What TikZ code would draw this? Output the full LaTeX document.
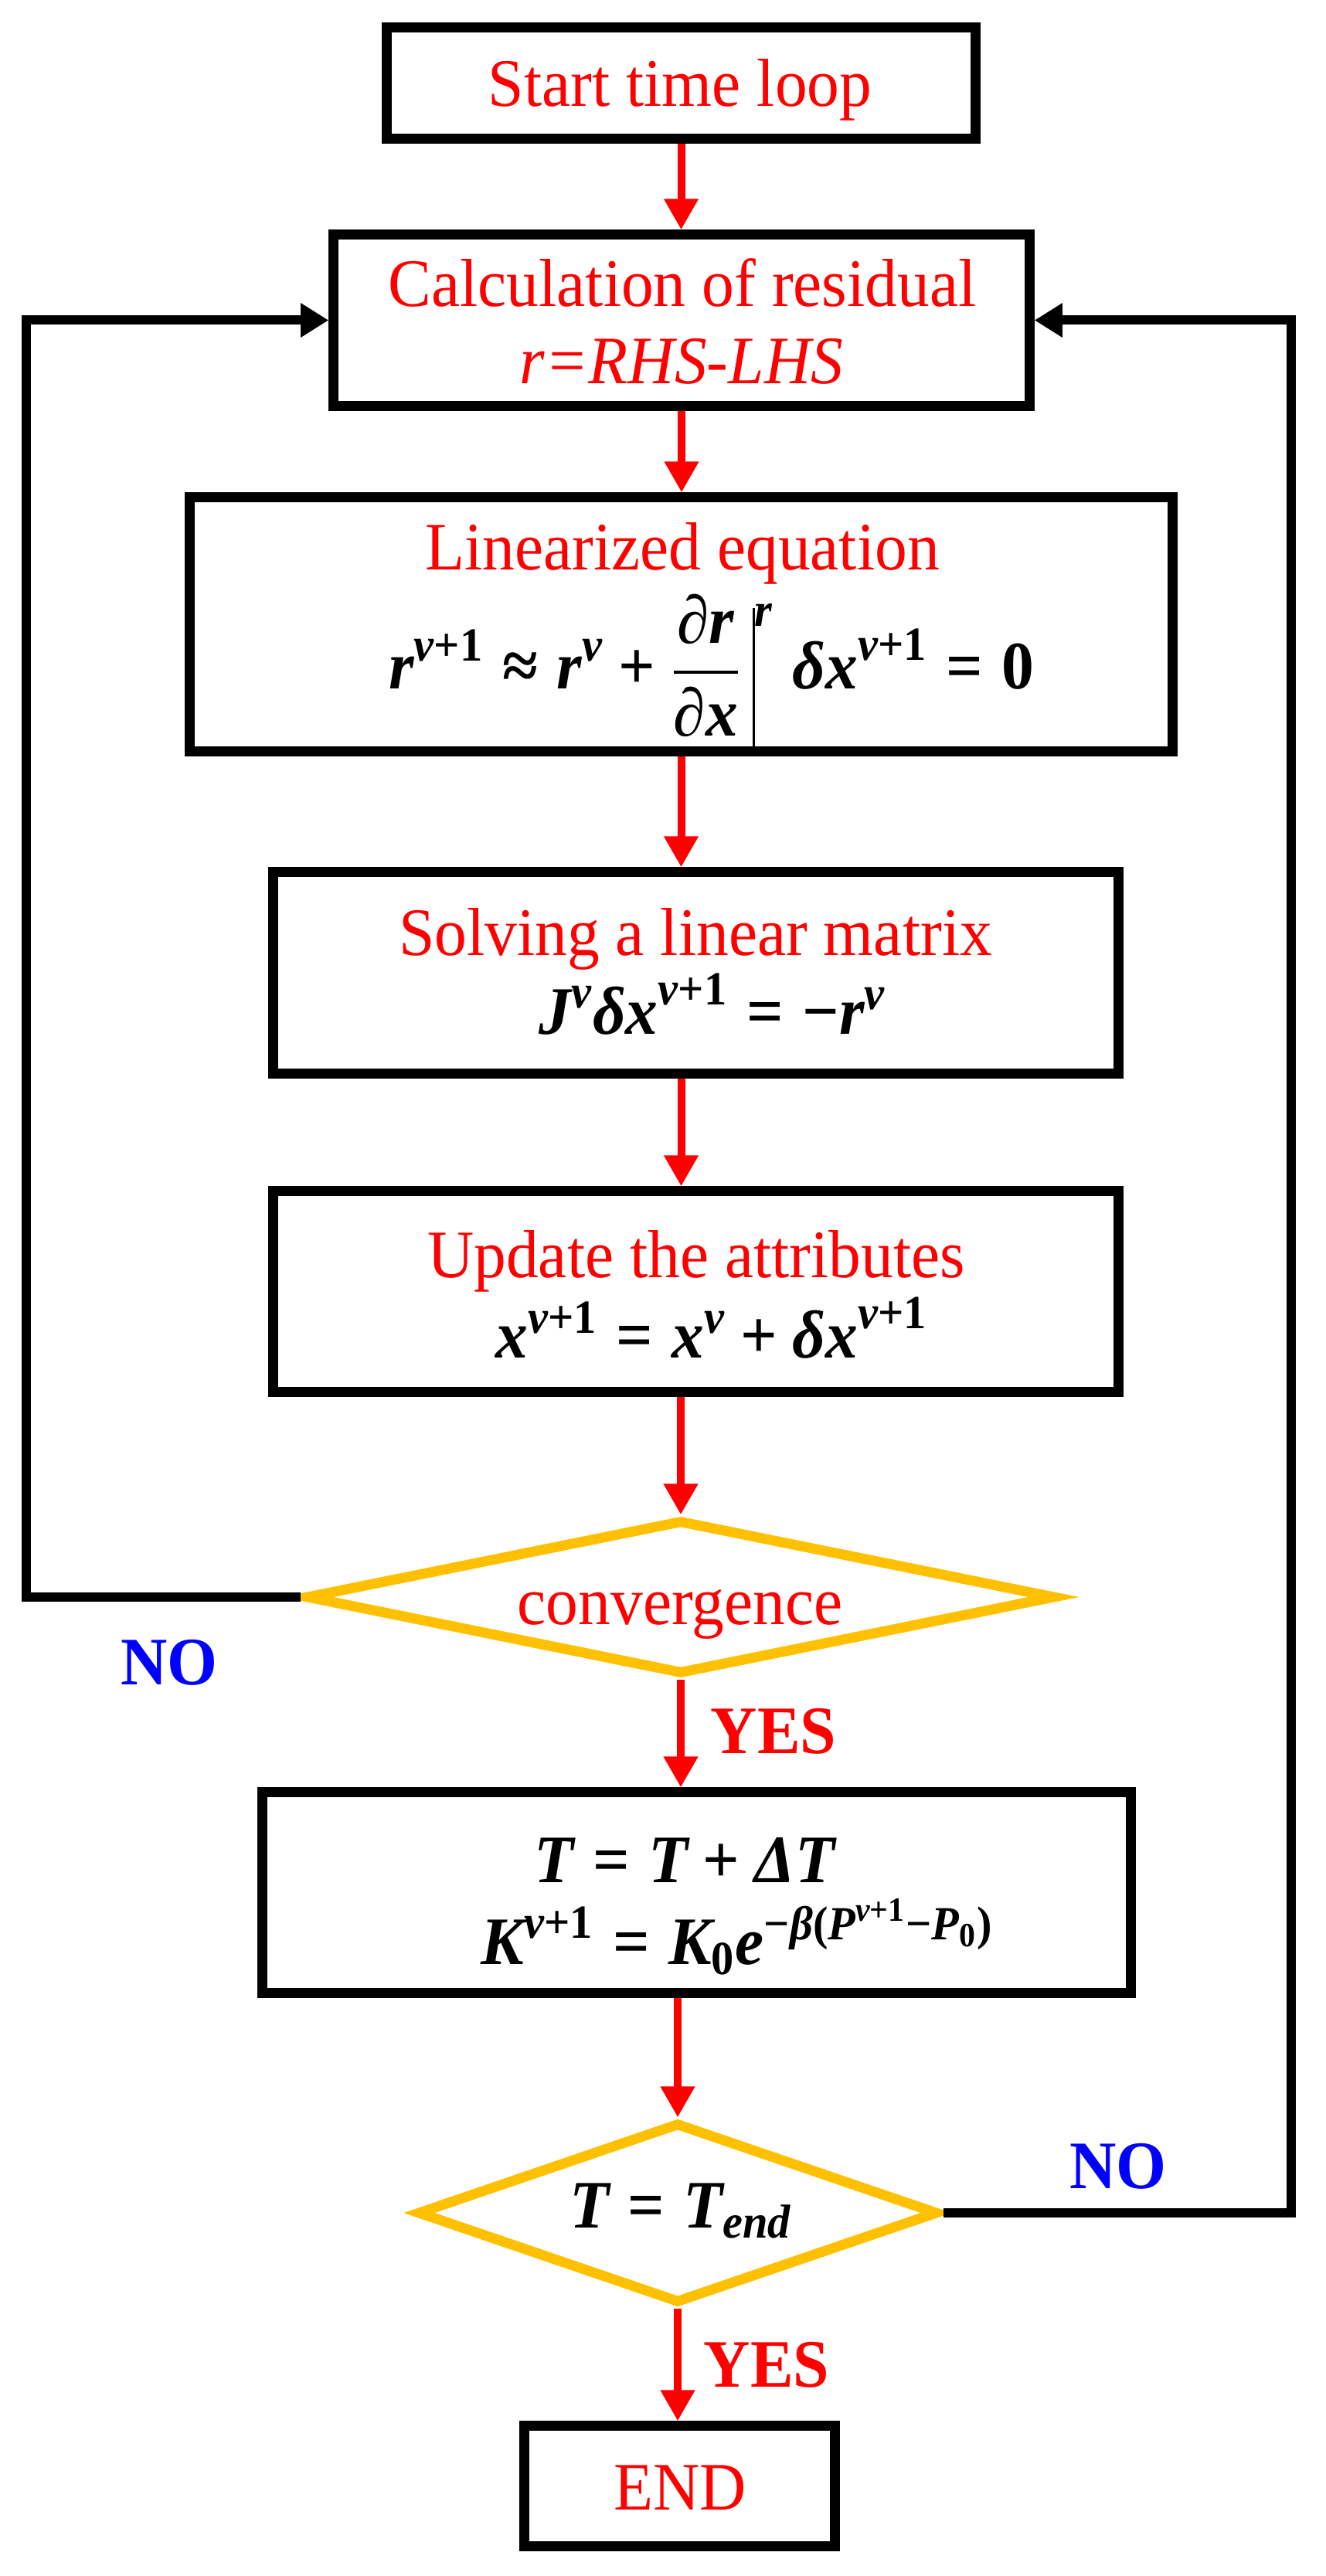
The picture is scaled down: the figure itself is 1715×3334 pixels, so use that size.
\documentclass[tikz,border=0pt]{standalone}
\usepackage{fix-cm}
\usepackage{amsmath}
\usepackage{fontspec}
\setmainfont{Liberation Serif}[FakeStretch=0.95]
\usetikzlibrary{arrows.meta,shapes.geometric,calc}
\definecolor{ygold}{HTML}{FFC000}
\newcommand\mi[1]{\text{\bfseries\itshape #1}}
\newcommand\mr[1]{\text{\bfseries #1}}
\newcommand\meq{\mathrel{\mr{=}}}
\newcommand\mplus{\mathbin{\mr{+}}}
\newcommand\mminus{\mathbin{\mr{−}}}
\newcommand\evalbar{\mathord{\vrule height 30pt depth 22pt width 0.8pt}}
\begin{document}
\begin{tikzpicture}[x=0.01cm,y=-0.01cm,
  box/.style={rectangle, draw=black, line width=0.13cm, fill=white, inner sep=0pt},
  dec/.style={diamond, draw=ygold, line width=0.13cm, line join=miter, fill=white, inner sep=0pt},
  txt/.style={inner sep=0pt, anchor=base, text=red, font=\fontsize{25pt}{30pt}\selectfont},
  eqn/.style={inner sep=0pt, anchor=base, text=black, font=\fontsize{25pt}{30pt}\selectfont},
  lbl/.style={inner sep=0pt, anchor=base, font=\fontsize{25pt}{30pt}\selectfont\bfseries},
  rarrow/.style={draw=red, line width=0.1cm, -{Triangle[length=0.4cm,width=0.42cm]}},
  barrow/.style={draw=black, line width=0.12cm, line join=miter, -{Triangle[length=0.36cm,width=0.42cm]}}]
\useasboundingbox[fill=white] (0,0) rectangle (1715,3334);

% boxes
\node[box, minimum width=7.61cm, minimum height=1.43cm] (start) at (881.5,107.5) {};
\node[box, minimum width=9.00cm, minimum height=2.21cm] (calc) at (882,414.5) {};
\node[box, minimum width=12.71cm, minimum height=3.28cm] (lin) at (881.5,808) {};
\node[box, minimum width=10.93cm, minimum height=2.60cm] (solve) at (900.5,1259) {};
\node[box, minimum width=10.93cm, minimum height=2.59cm] (update) at (900.5,1671.5) {};
\node[dec, minimum width=9.70cm, minimum height=2.00cm, aspect=4.85] (conv) at (881,2067) {};
\node[box, minimum width=11.23cm, minimum height=2.59cm] (tbox) at (901.5,2449.5) {};
\node[dec, minimum width=6.74cm, minimum height=2.34cm, aspect=2.88] (tend) at (877,2864) {};
\node[box, minimum width=4.01cm, minimum height=1.55cm] (endb) at (879.5,3217.5) {};

% texts
\node[txt] (startT) at (880,138) {Start time loop};
\node[txt] (calcT1) at (883,397) {Calculation of residual};
\node[txt] (calcT2) at (882,497) {\itshape r=RHS-LHS};
\node[txt] (linT) at (883,738) {Linearized equation};
\node[eqn] (linE) at (921,892) {$\displaystyle \mi{r}^{\mi{v}\mr{+1}}\mathrel{\mr{≈}}\mi{r}^{\mi{v}}\mplus\frac{\mi{∂r}}{\mi{∂x}}\,\evalbar^{\mi{r}}\;\mi{δx}^{\mi{v}\mr{+1}}\meq\mr{0}$};
\node[txt] (solveT) at (900,1236) {Solving a linear matrix};
\node[eqn] (solveE) at (922,1338) {$\mi{J}^{\mi{v}}\mi{δx}^{\mi{v}\mr{+1}}\meq\mminus\mi{r}^{\mi{v}}$};
\node[txt] (updT) at (901,1653) {Update the attributes};
\node[eqn] (updE) at (921,1757) {$\mi{x}^{\mi{v}\mr{+1}}\meq\mi{x}^{\mi{v}}\mplus\mi{δx}^{\mi{v}\mr{+1}}$};
\node[txt] (convT) at (880,2102) {convergence};
\node[eqn] (tE1) at (886,2436) {$\mi{T}\meq\mi{T}\mplus\mi{ΔT}$};
\node[eqn] (tE2) at (954,2542) {$\mi{K}^{\mi{v}\mr{+1}}\meq\mi{K}_{\mr{0}}\mi{e}^{\mr{−}\mi{β}\mr{(}\mi{P}^{\mi{v}\mr{+1}}\mminus\mi{P}_{\mr{0}}\mr{)}}$};
\node[eqn] (tendE) at (881,2883) {$\mi{T}\meq\mi{T}_{\mi{end}}$};
\node[txt] (endT) at (880,3248) {END};

% labels
\node[lbl, text=blue] (no1) at (219,2180) {NO};
\node[lbl, text=red, anchor=base west] (yes1) at (919,2269) {YES};
\node[lbl, text=blue] (no2) at (1447,2832) {NO};
\node[lbl, text=red, anchor=base west] (yes2) at (910,3089) {YES};

% main flow
\draw[rarrow] (start.south) -- (start.south |- calc.north);
\draw[rarrow] (calc.south) -- (calc.south |- lin.north);
\draw[rarrow] (lin.south) -- (lin.south |- solve.north);
\draw[rarrow] (solve.south -| lin.south) -- (update.north -| lin.south);
\draw[rarrow] (update.south -| conv.north) -- (conv.north);
\draw[rarrow] (conv.south) -- (conv.south |- tbox.north);
\draw[rarrow] (tbox.south -| tend.north) -- (tend.north);
\draw[rarrow] (tend.south) -- (tend.south |- endb.north);

% loops
\coordinate (L) at (34,415);
\coordinate (R) at (1671,415);
\draw[barrow] (conv.west) -- (conv.west -| L) -- (L |- calc.west) -- (calc.west);
\draw[barrow] (tend.east) -- (tend.east -| R) -- (R |- calc.east) -- (calc.east);
\end{tikzpicture}
\end{document}
